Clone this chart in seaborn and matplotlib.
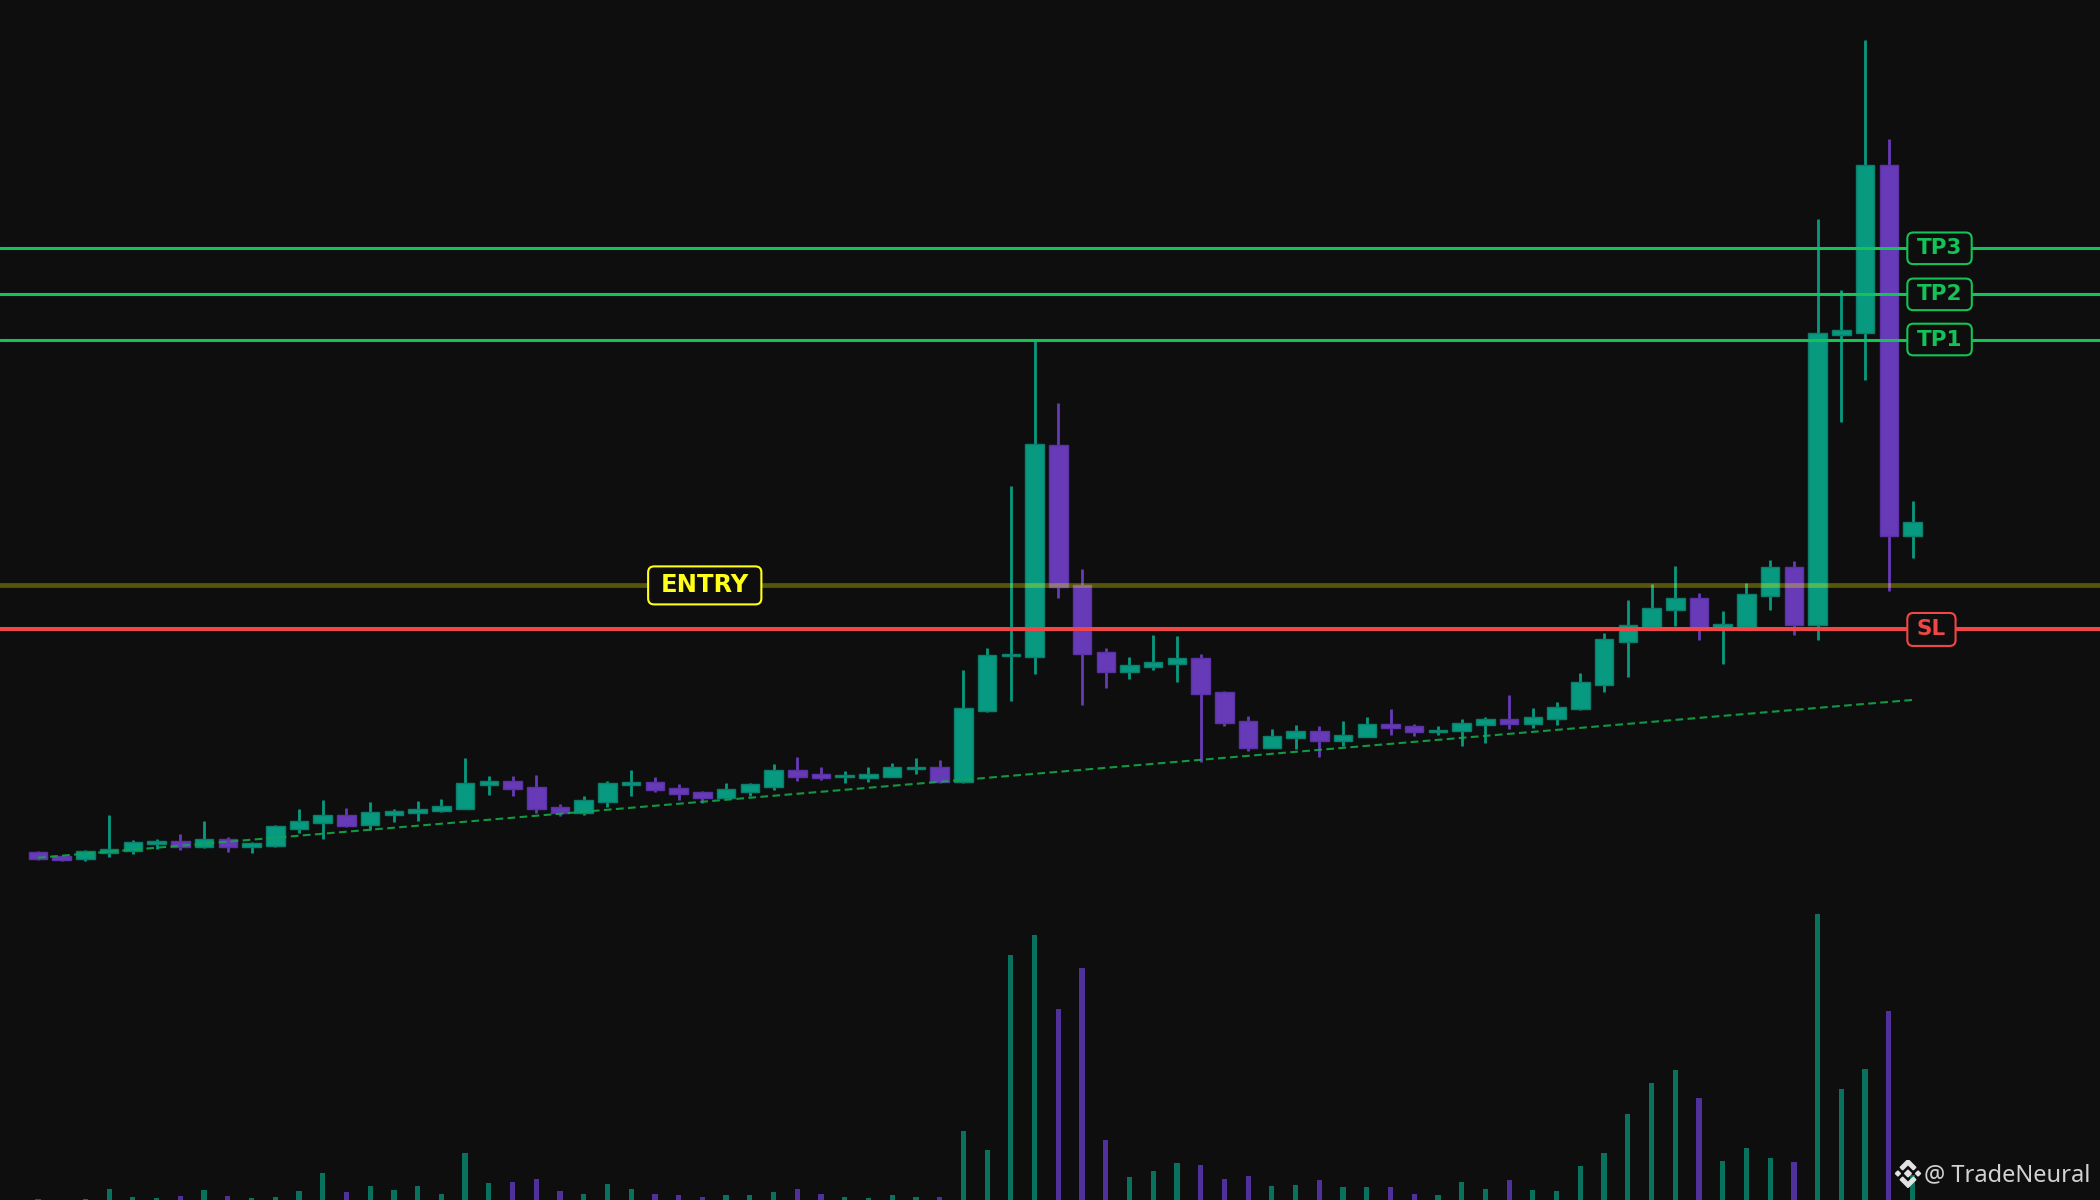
import numpy as np
import pandas as pd
import matplotlib
matplotlib.use("Agg")
import matplotlib.pyplot as plt
import seaborn as sns
from matplotlib.patches import FancyBboxPatch, Polygon
from matplotlib.transforms import IdentityTransform

# ---------------- data ----------------
opens = [363.6, 360.8, 358.4, 362.8, 364.3, 370.1, 372.1, 367.8, 373.3, 367.3,
         368.6, 381.3, 385.2, 391.2, 383.7, 391.7, 392.7, 394.2, 396.2, 413.6,
         416.6, 412.1, 397.2, 393.0, 400.9, 413.6, 415.9, 411.4, 408.4, 404.4,
         408.9, 412.6, 424.8, 421.8, 419.6, 419.3, 420.1, 425.6, 427.1, 416.4,
         469.4, 510.0, 509.7, 667.5, 563.0, 512.9, 498.0, 501.7, 504.0, 508.5,
         483.1, 461.4, 441.3, 448.7, 453.9, 446.5, 449.5, 459.2, 457.7, 453.2,
         453.9, 458.4, 462.9, 459.2, 462.9, 470.4, 488.8, 520.9, 531.6, 544.3,
         553.3, 530.9, 532.1, 554.8, 576.5, 533.2, 749.5, 751.7, 876.5, 599.7]
highs = [364.5, 361.0, 365.3, 391.5, 372.8, 373.5, 377.3, 387.0, 375.0, 371.3,
         383.7, 396.0, 402.7, 396.7, 401.2, 395.7, 401.9, 403.4, 434.0, 420.6,
         420.6, 421.3, 399.7, 405.7, 416.8, 425.1, 419.8, 414.6, 409.4, 415.4,
         415.4, 429.5, 434.8, 427.3, 424.3, 427.3, 430.3, 434.0, 432.5, 499.7,
         516.2, 637.1, 746.6, 699.1, 575.1, 516.2, 509.4, 525.9, 525.1, 511.7,
         484.3, 465.2, 455.7, 458.7, 457.9, 461.7, 464.6, 470.6, 459.2, 457.9,
         463.2, 464.6, 481.1, 471.4, 475.8, 497.5, 527.4, 552.0, 563.9, 577.4,
         557.2, 543.8, 564.7, 581.8, 581.1, 836.5, 783.3, 970.3, 896.3, 625.7]
lows = [358.0, 357.4, 357.4, 360.3, 362.3, 366.1, 365.3, 366.8, 363.8, 363.3,
        367.6, 378.3, 373.8, 382.7, 380.3, 386.2, 387.2, 394.0, 395.7, 406.4,
        405.9, 393.2, 391.0, 391.7, 397.7, 405.7, 408.6, 402.7, 400.2, 404.4,
        405.7, 410.1, 417.1, 417.8, 415.4, 416.1, 420.1, 422.3, 415.6, 415.1,
        468.6, 476.8, 496.7, 553.5, 473.6, 486.3, 493.0, 499.7, 491.0, 431.3,
        458.2, 439.5, 441.3, 441.0, 435.0, 443.0, 449.5, 451.5, 450.7, 451.2,
        443.2, 445.5, 455.9, 456.7, 458.9, 469.9, 483.3, 494.5, 530.1, 532.6,
        522.4, 504.5, 532.1, 544.6, 526.1, 522.3, 684.8, 716.4, 558.9, 583.6]
closes = [358.9, 358.1, 364.6, 366.1, 371.3, 372.1, 367.6, 373.5, 367.3, 370.6,
          383.2, 386.7, 391.2, 383.5, 393.5, 394.2, 395.7, 397.9, 415.1, 416.6,
          410.6, 395.7, 392.7, 402.7, 415.4, 416.1, 409.9, 406.9, 404.4, 410.6,
          414.4, 424.8, 420.1, 419.3, 421.1, 421.8, 427.1, 427.1, 416.4, 471.1,
          510.7, 511.7, 668.2, 561.5, 511.4, 498.0, 503.2, 505.5, 508.5, 481.6,
          459.9, 441.3, 450.2, 453.9, 446.5, 451.0, 459.2, 456.2, 453.2, 454.7,
          459.9, 462.9, 459.2, 464.4, 471.9, 490.5, 522.9, 533.1, 545.8, 553.3,
          530.1, 533.8, 556.2, 576.5, 533.2, 751.1, 753.3, 876.5, 599.7, 610.0]
volumes = [1, 0.5, 1, 11, 3, 2, 4, 10, 4, 2,
           3, 9, 27, 8, 14, 10, 14, 6, 47, 17,
           18, 21, 9, 6, 16, 11, 6, 5, 3, 5,
           5, 8, 11, 6, 3, 2, 5, 3, 3, 69,
           50, 245, 265, 191, 232, 60, 23, 29, 37, 35,
           21, 24, 14, 15, 20, 13, 13, 13, 6, 5,
           18, 11, 20, 10, 9, 34, 47, 86, 117, 130,
           102, 39, 52, 42, 38, 286, 111, 131, 189, 25]

tp_labels = ["TP1", "TP2", "TP3"]
tp_levels = [746.5, 780.2, 814.6]
entry_label = "ENTRY"
entry_price = 562.9
sl_label = "SL"
sl_price = 530.0
trend_start = 359.6
trend_end = 477.4
watermark = "@ TradeNeural"

# ---------------- style ----------------
BG = "#0e0e0e"
UP = "#089a80"
DOWN = "#673ab7"
UP_EDGE = "#0b7f6b"
DOWN_EDGE = "#5a32a6"
UP_VOL = "#08725e"
DOWN_VOL = "#50309a"
TP_COL = "#14c257"
SL_COL = "#f04646"
ENTRY_COL = "#ffff1a"
TREND_COL = "#12a84a"

sns.set_theme(style="dark", rc={"axes.facecolor": BG, "figure.facecolor": BG})
plt.rcParams["font.family"] = ["DejaVu Sans"]

W, H, DPI = 2100, 1200, 100
fig = plt.figure(figsize=(W / DPI, H / DPI), dpi=DPI)
fig.patch.set_facecolor(BG)

o = np.array(opens); h = np.array(highs); l = np.array(lows); c = np.array(closes)
n = len(o)
idx = np.arange(n)
up = c >= o
XLIM = (-1.6, 86.9)

# ---------- volume panel ----------
axv = fig.add_axes([0, 0, 1, 1])
axv.set_facecolor(BG)
vdf = pd.DataFrame({"i": idx, "vol": volumes, "dir": np.where(up, "up", "down")})
sns.barplot(data=vdf, x="i", y="vol", hue="dir", native_scale=True, dodge=False,
            palette={"up": UP_VOL, "down": DOWN_VOL}, width=0.22, saturation=1,
            errorbar=None, legend=False, linewidth=0, ax=axv)
axv.set_xlim(*XLIM)
axv.set_ylim(0, 1200)
axv.set_axis_off()

# ---------- price panel ----------
ax = fig.add_axes([0, 0, 1, 1])
ax.patch.set_alpha(0)
ax.set_xlim(*XLIM)
ax.set_ylim(104, 1000)
ax.set_axis_off()

cols = np.where(up, UP, DOWN)
edges = np.where(up, UP_EDGE, DOWN_EDGE)
ax.vlines(idx, l, h, colors=cols, linewidth=2.0, zorder=2)
ax.bar(idx, np.abs(c - o), bottom=np.minimum(o, c), width=0.78, color=cols,
       edgecolor=edges, linewidth=1.0, zorder=3)

tdf = pd.DataFrame({"x": [idx[0], idx[-1]], "y": [trend_start, trend_end]})
sns.lineplot(data=tdf, x="x", y="y", ax=ax, color=TREND_COL, linewidth=1.5,
             linestyle=(0, (3.7, 2.1)), alpha=0.9, zorder=4)
ax.set_xlim(*XLIM)
ax.set_ylim(104, 1000)
ax.set_axis_off()

for lv in tp_levels:
    ax.axhline(lv, color=TP_COL, linewidth=2.2, zorder=5)
ax.axhline(entry_price, color="#ffff00", alpha=0.3, linewidth=3.4, zorder=5)
ax.axhline(sl_price, color=SL_COL, linewidth=2.9, zorder=5)

label_x = idx[-1] + 0.18
texts = []
for lab, lv in zip(tp_labels, tp_levels):
    t = ax.text(label_x, lv, lab, color=TP_COL, fontsize=15.5, fontweight="bold",
                ha="left", va="center", zorder=8)
    texts.append((t, TP_COL, 9.5, 5.8))
t = ax.text(label_x, sl_price, sl_label, color=SL_COL, fontsize=15.5, fontweight="bold",
            ha="left", va="center", zorder=8)
texts.append((t, SL_COL, 9.5, 6.5))
t = ax.text(28.1, entry_price, entry_label, color=ENTRY_COL, fontsize=17.5,
            fontweight="bold", ha="center", va="center", zorder=8)
texts.append((t, ENTRY_COL, 12.5, 7.0))

fig.canvas.draw()
renderer = fig.canvas.get_renderer()
for t, col, hp, vp in texts:
    bb = t.get_window_extent(renderer)
    box = FancyBboxPatch((bb.x0 - hp, bb.y0 - vp), bb.width + 2 * hp, bb.height + 2 * vp,
                         boxstyle="round,pad=0,rounding_size=6", facecolor=BG,
                         edgecolor=col, linewidth=1.5, transform=IdentityTransform(),
                         zorder=7)
    ax.add_patch(box)

# ---------- watermark ----------
fig.text(1924 / W, 1 - 1181.7 / H, watermark, color="#d2d2d2", fontsize=17,
         ha="left", va="baseline", family=["Noto Sans", "DejaVu Sans"])
axl = fig.add_axes([(1908 - 14) / W, 1 - (1173.5 + 14) / H, 28 / W, 28 / H])
axl.set_xlim(-1, 1); axl.set_ylim(-1, 1); axl.set_axis_off(); axl.patch.set_alpha(0)
logo_col = "#e2e2e2"
top = [(0, 1), (0.56, 0.44), (0.38, 0.26), (0, 0.64), (-0.38, 0.26), (-0.56, 0.44)]
bot = [(x, -y) for x, y in top]
for poly in (top, bot):
    axl.add_patch(Polygon(poly, closed=True, color=logo_col))
for cx in (-0.72, 0.72):
    axl.add_patch(Polygon([(cx - 0.18, 0), (cx, 0.18), (cx + 0.18, 0), (cx, -0.18)],
                          closed=True, color=logo_col))
axl.add_patch(Polygon([(-0.24, 0), (0, 0.24), (0.24, 0), (0, -0.24)], closed=True,
                      color=logo_col))

fig.savefig("out.png", dpi=DPI, facecolor=BG)
